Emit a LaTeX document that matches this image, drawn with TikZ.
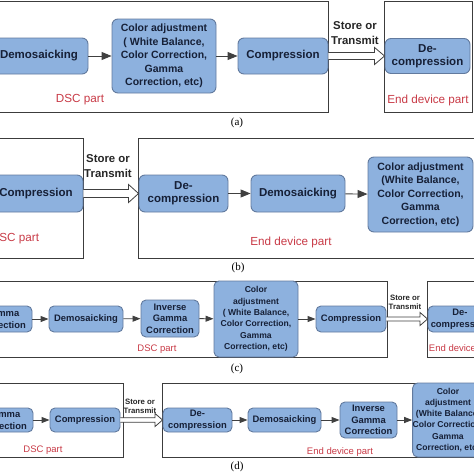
\documentclass[tikz,border=0pt]{standalone}
\usepackage{fontspec}
\setmainfont{Liberation Sans}
\newfontfamily\capfont{Liberation Serif}
\usepackage{xcolor}
\usetikzlibrary{arrows.meta,calc}

\definecolor{blkfill}{RGB}{141,177,222}
\definecolor{blkline}{RGB}{98,122,158}
\definecolor{blktext}{RGB}{22,32,55}
\definecolor{partred}{RGB}{200,58,70}
\definecolor{boxline}{RGB}{60,60,60}

\tikzset{
  blk/.style={draw=blkline, fill=blkfill, rounded corners=6pt, line width=0.9pt, align=center,
    inner sep=0pt, text=blktext, font=\bfseries\fontsize{11.5}{13.4}\selectfont},
  blks/.style={blk, rounded corners=5pt, font=\bfseries\fontsize{9.4}{11.6}\selectfont},
  part/.style={draw=boxline, line width=1pt},
  lbl/.style={text=partred, inner sep=0pt, font=\fontsize{11.7}{14}\selectfont},
  lbls/.style={lbl, font=\fontsize{9.5}{12}\selectfont},
  st/.style={align=center, inner sep=0pt, text=black!85, font=\bfseries\fontsize{11.4}{15.5}\selectfont},
  sts/.style={st, font=\bfseries\fontsize{7.8}{9.3}\selectfont},
  flow/.style={draw=black!75, line width=0.9pt, -{Triangle[length=10pt,width=8pt]}},
  flows/.style={flow, -{Triangle[length=8pt,width=6pt]}},
  hollow/.style={draw=black!75, fill=white, line width=0.8pt},
  capt/.style={inner sep=0pt, font=\capfont\fontsize{11}{13}\selectfont}
}

% from, to, shaft half width, head half width, head length
\newcommand{\hollowarrow}[5]{%
  \draw[hollow] let \p1=(#1.east), \p2=(#2.west) in
    (\x1,\y1+#3pt) -- (\x2-#5pt,\y1+#3pt) -- (\x2-#5pt,\y1+#4pt) -- (\x2,\y1)
    -- (\x2-#5pt,\y1-#4pt) -- (\x2-#5pt,\y1-#3pt) -- (\x1,\y1-#3pt);}

\begin{document}
\begin{tikzpicture}[x=1pt,y=-1pt]
\useasboundingbox (0,0) rectangle (474,474);
\clip (0,0) rectangle (474,474);

% (a)
\draw[part] (-10,1) rectangle (328,112);
\draw[part] (384,1) rectangle (472,112);
\node[blk, minimum width=98pt, minimum height=36pt] (demA) at (39,56) {Demosaicking};
\node[blk, minimum width=104pt, minimum height=74pt, font=\bfseries\fontsize{10.5}{13.4}\selectfont] (colA) at (164,56)
  {Color adjustment\\( White Balance,\\Color Correction,\\Gamma\\Correction, etc)};
\node[blk, minimum width=90pt, minimum height=36pt] (cmpA) at (283,56) {Compression};
\node[blk, minimum width=85pt, minimum height=35pt] (decA) at (427.5,56) {De-\\compression};
\node[st] (stA) at (355,33) {Store or\\Transmit};
\node[lbl] (dscA) at (80,100) {DSC part};
\node[lbl] (endA) at (428,100) {End device part};
\node[capt] (capA) at (237,123) {(a)};
\draw[flow] (demA) -- (colA);
\draw[flow] (colA) -- (cmpA);
\hollowarrow{cmpA}{decA}{3.5}{8.5}{10}

% (b)
\draw[part] (-10,138) rectangle (83,258);
\draw[part] (138,138) rectangle (480,258);
\node[blk, minimum width=94pt, minimum height=37pt] (cmpB) at (36,193.5) {Compression};
\node[blk, minimum width=89pt, minimum height=37pt] (decB) at (183.5,193.5) {De-\\compression};
\node[blk, minimum width=94pt, minimum height=37pt] (demB) at (298,193.5) {Demosaicking};
\node[blk, minimum width=105pt, minimum height=75pt, font=\bfseries\fontsize{10.5}{13.4}\selectfont] (colB) at (420.5,194.5)
  {Color adjustment\\(White Balance,\\Color Correction,\\Gamma\\Correction, etc)};
\node[st] (stB) at (108,166) {Store or\\Transmit};
\node[lbl] (dscB) at (15,239) {DSC part};
\node[lbl] (endB) at (291,242) {End device part};
\node[capt] (capB) at (238,268) {(b)};
\hollowarrow{cmpB}{decB}{4}{9}{10}
\draw[flow] (decB) -- (demB);
\draw[flow] (demB) -- (colB);

% (c)
\draw[part] (-10,281) rectangle (387,357);
\draw[part] (427,281) rectangle (480,357);
\node[blks, minimum width=60pt, minimum height=26pt] (gamC) at (2,319) {Gamma\\Correction};
\node[blks, minimum width=74pt, minimum height=26pt] (demC) at (86,319) {Demosaicking};
\node[blks, minimum width=58pt, minimum height=37pt] (igcC) at (170,318.5) {Inverse\\Gamma\\Correction};
\node[blks, minimum width=84pt, minimum height=76pt, font=\bfseries\fontsize{8.6}{11.3}\selectfont] (colC) at (256,319)
  {Color\\adjustment\\( White Balance,\\Color Correction,\\Gamma\\Correction, etc)};
\node[blks, minimum width=70pt, minimum height=26pt] (cmpC) at (351,319) {Compression};
\node[blks, minimum width=64pt, minimum height=26pt] (decC) at (460,319) {De-\\compression};
\node[sts] (stC) at (405,302) {Store or\\Transmit};
\node[lbls] (dscC) at (157,349) {DSC part};
\node[lbls] (endC) at (462,349) {End device part};
\node[capt] (capC) at (237,369) {(c)};
\draw[flows] (gamC) -- (demC);
\draw[flows] (demC) -- (igcC);
\draw[flows] (igcC) -- (colC);
\draw[flows] (colC) -- (cmpC);
\hollowarrow{cmpC}{decC}{2}{6.5}{7.5}

% (d)
\draw[part] (-10,383) rectangle (123,457);
\draw[part] (162,383) rectangle (480,457);
\node[blks, minimum width=60pt, minimum height=24pt] (gamD) at (3,420) {Gamma\\Correction};
\node[blks, minimum width=70pt, minimum height=24pt] (cmpD) at (85,420) {Compression};
\node[blks, minimum width=69pt, minimum height=24pt] (decD) at (197.5,420) {De-\\compression};
\node[blks, minimum width=73pt, minimum height=24pt] (demD) at (284.5,420) {Demosaicking};
\node[blks, minimum width=57pt, minimum height=36pt] (igcD) at (368.5,420) {Inverse\\Gamma\\Correction};
\node[blks, minimum width=66pt, minimum height=74pt, font=\bfseries\fontsize{8.6}{11.2}\selectfont] (colD) at (448,420)
  {Color\\adjustment\\(White Balance,\\Color Correction,\\Gamma\\Correction, etc)};
\node[sts] (stD) at (140,406) {Store or\\Transmit};
\node[lbls] (dscD) at (43,450) {DSC part};
\node[lbls] (endD) at (340,452) {End device part};
\node[capt] (capD) at (237,467) {(d)};
\draw[flows] (gamD) -- (cmpD);
\hollowarrow{cmpD}{decD}{2.2}{6.5}{7.5}
\draw[flows] (decD) -- (demD);
\draw[flows] (demD) -- (igcD);
\draw[flows] (igcD) -- (colD);
\end{tikzpicture}
\end{document}
